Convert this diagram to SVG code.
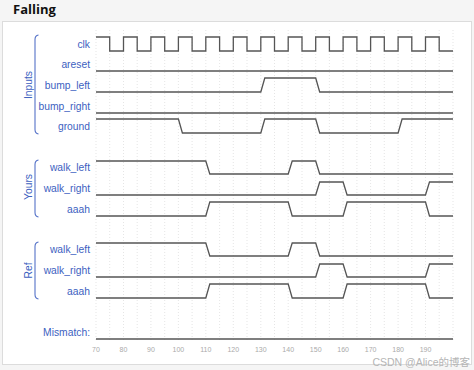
<svg xmlns="http://www.w3.org/2000/svg" width="474" height="370" viewBox="0 0 474 370">
<style>
.lbl{font-family:"Liberation Sans",Arial,sans-serif;font-size:10.3px;fill:#3d5fbf;text-anchor:end}
.grp{font-family:"Liberation Sans",Arial,sans-serif;font-size:10.3px;fill:#3d5fbf;text-anchor:middle}
.wave{fill:none;stroke:#555;stroke-width:1.3}
.brace{fill:none;stroke:#5572c8;stroke-width:1.1}
.grid{stroke:#dedede;stroke-width:0.8;stroke-dasharray:1 2}
.tick{font-family:"Liberation Sans",Arial,sans-serif;font-size:7px;fill:#aaa;text-anchor:middle}
</style>
<rect x="0" y="0" width="474" height="370" fill="#f5f5f5"/>
<rect x="2.5" y="21.5" width="469" height="343" fill="#ffffff" stroke="#dcdcdc"/>
<text x="13" y="14" font-family="'Open Sans','Liberation Sans',sans-serif" font-size="13" font-weight="bold" fill="#111">Falling</text>
<g id="grid">
<line class="grid" x1="96" y1="30" x2="96" y2="342"/>
<line class="grid" x1="109.7" y1="30" x2="109.7" y2="342"/>
<line class="grid" x1="123.5" y1="30" x2="123.5" y2="342"/>
<line class="grid" x1="137.2" y1="30" x2="137.2" y2="342"/>
<line class="grid" x1="150.9" y1="30" x2="150.9" y2="342"/>
<line class="grid" x1="164.7" y1="30" x2="164.7" y2="342"/>
<line class="grid" x1="178.4" y1="30" x2="178.4" y2="342"/>
<line class="grid" x1="192.1" y1="30" x2="192.1" y2="342"/>
<line class="grid" x1="205.8" y1="30" x2="205.8" y2="342"/>
<line class="grid" x1="219.6" y1="30" x2="219.6" y2="342"/>
<line class="grid" x1="233.3" y1="30" x2="233.3" y2="342"/>
<line class="grid" x1="247" y1="30" x2="247" y2="342"/>
<line class="grid" x1="260.8" y1="30" x2="260.8" y2="342"/>
<line class="grid" x1="274.5" y1="30" x2="274.5" y2="342"/>
<line class="grid" x1="288.2" y1="30" x2="288.2" y2="342"/>
<line class="grid" x1="302" y1="30" x2="302" y2="342"/>
<line class="grid" x1="315.7" y1="30" x2="315.7" y2="342"/>
<line class="grid" x1="329.4" y1="30" x2="329.4" y2="342"/>
<line class="grid" x1="343.1" y1="30" x2="343.1" y2="342"/>
<line class="grid" x1="356.9" y1="30" x2="356.9" y2="342"/>
<line class="grid" x1="370.6" y1="30" x2="370.6" y2="342"/>
<line class="grid" x1="384.3" y1="30" x2="384.3" y2="342"/>
<line class="grid" x1="398.1" y1="30" x2="398.1" y2="342"/>
<line class="grid" x1="411.8" y1="30" x2="411.8" y2="342"/>
<line class="grid" x1="425.5" y1="30" x2="425.5" y2="342"/>
<line class="grid" x1="439.2" y1="30" x2="439.2" y2="342"/>
<line class="grid" x1="453" y1="30" x2="453" y2="342"/>
</g>
<g id="axis">
<text class="tick" x="96" y="352">70</text>
<text class="tick" x="123.5" y="352">80</text>
<text class="tick" x="150.9" y="352">90</text>
<text class="tick" x="178.4" y="352">100</text>
<text class="tick" x="205.8" y="352">110</text>
<text class="tick" x="233.3" y="352">120</text>
<text class="tick" x="260.8" y="352">130</text>
<text class="tick" x="288.2" y="352">140</text>
<text class="tick" x="315.7" y="352">150</text>
<text class="tick" x="343.1" y="352">160</text>
<text class="tick" x="370.6" y="352">170</text>
<text class="tick" x="398.1" y="352">180</text>
<text class="tick" x="425.5" y="352">190</text>
</g>
<g id="group-inputs">
<path class="brace" d="M38.5 35 Q35 35.5 35 39.5 V129.5 Q35 133.5 38.5 134"/>
<text class="grp" transform="translate(31.7 85) rotate(-90)">Inputs</text>
</g>
<g id="group-yours">
<path class="brace" d="M38.5 160 Q35 160.5 35 164.5 V212.5 Q35 216.5 38.5 217"/>
<text class="grp" transform="translate(31.7 187) rotate(-90)">Yours</text>
</g>
<g id="group-ref">
<path class="brace" d="M38.5 242 Q35 242.5 35 246.5 V294.5 Q35 298.5 38.5 299"/>
<text class="grp" transform="translate(31.7 270.5) rotate(-90)">Ref</text>
</g>
<g id="sig-clk">
<text class="lbl" x="90" y="47.7">clk</text>
<path class="wave" d="M96 37H109.7V51H123.5V37H137.2V51H150.9V37H164.7V51H178.4V37H192.1V51H205.8V37H219.6V51H233.3V37H247V51H260.8V37H274.5V51H288.2V37H302V51H315.7V37H329.4V51H343.1V37H356.9V51H370.6V37H384.3V51H398.1V37H411.8V51H425.5V37H439.2V51H453"/>
</g>
<g id="sig-areset">
<text class="lbl" x="90" y="68.2">areset</text>
<path class="wave" d="M96 71H453"/>
</g>
<g id="sig-bump_left">
<text class="lbl" x="90" y="89.2">bump_left</text>
<path class="wave" d="M96 92H260.8L264.8 78H315.7L319.7 92H453"/>
</g>
<g id="sig-bump_right">
<text class="lbl" x="90" y="109.7">bump_right</text>
<path class="wave" d="M96 113H453"/>
</g>
<g id="sig-ground">
<text class="lbl" x="90" y="130.2">ground</text>
<path class="wave" d="M96 119H178.4L182.4 133H260.8L264.8 119H315.7L319.7 133H398.1L402.1 119H453"/>
</g>
<g id="yours-walk_left">
<text class="lbl" x="90" y="171.2">walk_left</text>
<path class="wave" d="M96 161H205.8L209.8 174H288.2L292.2 161H315.7L319.7 174H453"/>
</g>
<g id="yours-walk_right">
<text class="lbl" x="90" y="192.2">walk_right</text>
<path class="wave" d="M96 195H315.7L319.7 182H343.1L347.1 195H425.5L429.5 182H453"/>
</g>
<g id="yours-aaah">
<text class="lbl" x="90" y="213.2">aaah</text>
<path class="wave" d="M96 216H205.8L209.8 202H288.2L292.2 216H343.1L347.1 202H425.5L429.5 216H453"/>
</g>
<g id="ref-walk_left">
<text class="lbl" x="90" y="253.2">walk_left</text>
<path class="wave" d="M96 243H205.8L209.8 256H288.2L292.2 243H315.7L319.7 256H453"/>
</g>
<g id="ref-walk_right">
<text class="lbl" x="90" y="274.2">walk_right</text>
<path class="wave" d="M96 277H315.7L319.7 264H343.1L347.1 277H425.5L429.5 264H453"/>
</g>
<g id="ref-aaah">
<text class="lbl" x="90" y="295.2">aaah</text>
<path class="wave" d="M96 298H205.8L209.8 284H288.2L292.2 298H343.1L347.1 284H425.5L429.5 298H453"/>
</g>
<g id="sig-mismatch">
<text class="lbl" x="90" y="335.7">Mismatch:</text>
<path class="wave" d="M96 339H453"/>
</g>
<g id="connectors"/>
<text x="470" y="365.5" font-family="'Liberation Sans','Noto Sans CJK SC',sans-serif" font-size="10.5" fill="#b5b5b5" text-anchor="end">CSDN @Alice的博客</text>
</svg>
